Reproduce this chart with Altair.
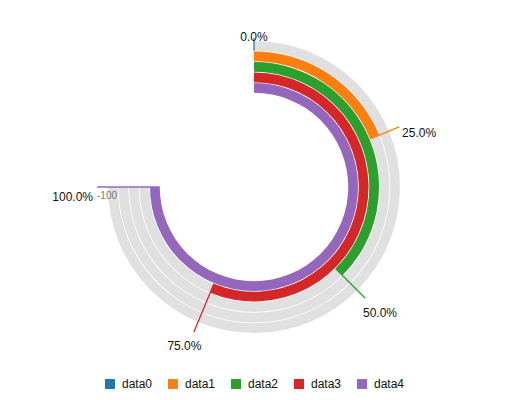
import math
import pandas as pd
import altair as alt

# gauge data
series = ["data0", "data1", "data2", "data3", "data4"]
values = [0, 25, 50, 75, 100]
colors = ["#1f77b4", "#ff7f0e", "#2ca02c", "#d62728", "#9467bd"]
gauge_min = 0
gauge_max = 100
min_label = "-100"

# layout (px): gauge centre inside the plot area, ring sizes, label radius
CX, CY = 246, 179
R_OUT, RING_STEP, RING_W = 146, 10.5, 9.7
R_LABEL = 157
FONT = "Liberation Sans"

df = pd.DataFrame({"series": series, "value": values})
df["lo"] = gauge_min
df["hi"] = gauge_max
df["outer"] = [R_OUT - RING_STEP * i for i in range(len(series))]
df["inner"] = df["outer"] - RING_W
df["tip"] = [R_OUT + 3 if v == gauge_min else R_LABEL for v in values]
df["pct"] = (df["value"] - gauge_min) / (gauge_max - gauge_min)

theta_scale = alt.Scale(domain=[gauge_min, gauge_max], range=[0, 1.5 * math.pi])
color_scale = alt.Scale(domain=series, range=colors)

base = alt.Chart(df).encode(x=alt.value(CX), y=alt.value(CY))

# grey background track of every ring
track = base.mark_arc(color="#e0e0e0").encode(
    theta=alt.Theta("lo:Q", scale=theta_scale, stack=False),
    theta2="hi:Q",
    radius=alt.Radius("outer:Q", scale=None),
    radius2="inner:Q",
)

legend = alt.Legend(title=None, orient="none", legendX=96, legendY=370, direction="horizontal",
                    symbolType="square", symbolSize=100, symbolStrokeWidth=0, padding=0,
                    labelFont=FONT, labelFontSize=12, labelColor="#111", labelOffset=6, columnPadding=14)

bars = base.mark_arc().encode(
    theta=alt.Theta("lo:Q", scale=theta_scale, stack=False),
    theta2="value:Q",
    radius=alt.Radius("outer:Q", scale=None),
    radius2="inner:Q",
    color=alt.Color("series:N", scale=color_scale, legend=legend),
)

# radial leader lines at the end of each arc
leaders = base.mark_arc(filled=False, strokeWidth=1.3).encode(
    theta=alt.Theta("value:Q", scale=theta_scale, stack=False),
    theta2="value:Q",
    radius=alt.Radius("inner:Q", scale=None),
    radius2="tip:Q",
    color=alt.Color("series:N", scale=color_scale, legend=None),
)

# label alignment around the leader tip: (align, dx, dy)
label_pos = {
    "data0": ("center", 0, 6.5),
    "data1": ("left", 3, 6),
    "data2": ("left", -2, 14.5),
    "data3": ("center", -9.5, 14),
    "data4": ("right", -4, 10),
}
texts = []
for name, (align, dx, dy) in label_pos.items():
    texts.append(
        base.mark_text(radius=R_LABEL, align=align, baseline="middle", dx=dx, dy=dy,
                       font=FONT, fontSize=12, color="#111")
        .encode(theta=alt.Theta("value:Q", scale=theta_scale, stack=False),
                text=alt.Text("pct:Q", format=".1%"))
        .transform_filter(alt.datum.series == name)
    )

min_df = pd.DataFrame({"v": [gauge_max], "t": [min_label]})
min_text = alt.Chart(min_df).mark_text(radius=R_LABEL, align="left", baseline="middle", dx=0, dy=9,
                                       font=FONT, fontSize=10, color="#777").encode(
    x=alt.value(CX), y=alt.value(CY),
    theta=alt.Theta("v:Q", scale=theta_scale, stack=False),
    text="t:N",
)

chart = alt.layer(track, bars, leaders, *texts, min_text).properties(
    width=511, height=384, padding=0, autosize="none"
).configure_view(stroke=None)

chart.save("out.html", embed_options={"renderer": "svg", "actions": False})
